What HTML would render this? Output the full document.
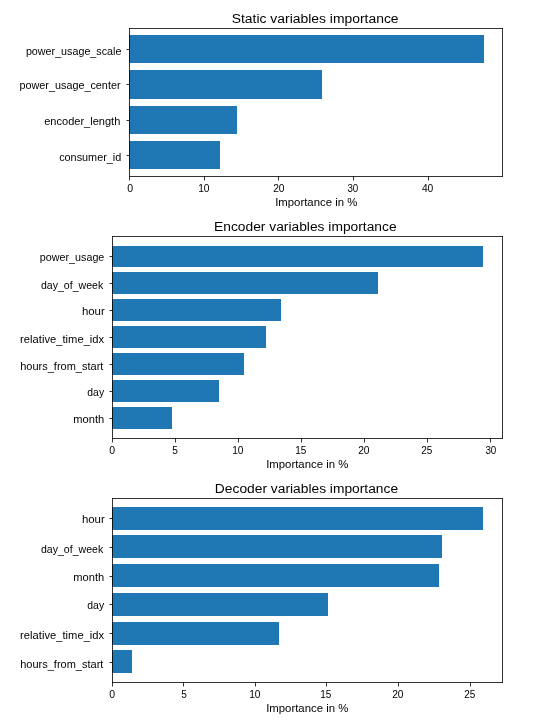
<!DOCTYPE html><html><head><meta charset="utf-8"><title>Variables importance</title><style>html,body{margin:0;padding:0;background:#fff;}svg{display:block;will-change:transform;}text{font-family:"Liberation Sans",sans-serif;fill:#000;}</style></head><body>
<svg width="547" height="725" viewBox="0 0 547 725">
<rect x="0" y="0" width="547" height="725" fill="#fff"/>
<g shape-rendering="crispEdges" fill="#1f77b4">
<rect x="129" y="35" width="355" height="28"/>
<rect x="129" y="70" width="193" height="29"/>
<rect x="129" y="106" width="108" height="28"/>
<rect x="129" y="141" width="91" height="28"/>
<rect x="112" y="246" width="371" height="21"/>
<rect x="112" y="272" width="266" height="22"/>
<rect x="112" y="299" width="169" height="22"/>
<rect x="112" y="326" width="154" height="22"/>
<rect x="112" y="353" width="132" height="22"/>
<rect x="112" y="380" width="107" height="22"/>
<rect x="112" y="407" width="60" height="22"/>
<rect x="112" y="507" width="371" height="23"/>
<rect x="112" y="535" width="330" height="23"/>
<rect x="112" y="564" width="327" height="23"/>
<rect x="112" y="593" width="216" height="23"/>
<rect x="112" y="622" width="167" height="23"/>
<rect x="112" y="650" width="20" height="23"/>
</g><g shape-rendering="crispEdges" fill="#000">
<rect x="129" y="28" width="374" height="1" fill-opacity="0.8"/>
<rect x="129" y="176" width="374" height="1" fill-opacity="0.8"/>
<rect x="129" y="29" width="1" height="147" fill-opacity="0.8"/>
<rect x="502" y="29" width="1" height="147" fill-opacity="0.8"/>
<rect x="129" y="28" width="1" height="1" fill-opacity="0.6275"/>
<rect x="502" y="28" width="1" height="1" fill-opacity="0.6275"/>
<rect x="129" y="176" width="1" height="1" fill-opacity="0.6275"/>
<rect x="502" y="176" width="1" height="1" fill-opacity="0.6275"/>
<rect x="129" y="176" width="1" height="1" fill-opacity="0.4"/>
<rect x="129" y="177" width="1" height="3" fill-opacity="0.8"/>
<rect x="129" y="180" width="1" height="1" fill-opacity="0.4"/>
<rect x="204" y="176" width="1" height="1" fill-opacity="0.4"/>
<rect x="204" y="177" width="1" height="3" fill-opacity="0.8"/>
<rect x="204" y="180" width="1" height="1" fill-opacity="0.4"/>
<rect x="278" y="176" width="1" height="1" fill-opacity="0.4"/>
<rect x="278" y="177" width="1" height="3" fill-opacity="0.8"/>
<rect x="278" y="180" width="1" height="1" fill-opacity="0.4"/>
<rect x="353" y="176" width="1" height="1" fill-opacity="0.4"/>
<rect x="353" y="177" width="1" height="3" fill-opacity="0.8"/>
<rect x="353" y="180" width="1" height="1" fill-opacity="0.4"/>
<rect x="428" y="176" width="1" height="1" fill-opacity="0.4"/>
<rect x="428" y="177" width="1" height="3" fill-opacity="0.8"/>
<rect x="428" y="180" width="1" height="1" fill-opacity="0.4"/>
<rect x="129" y="49" width="1" height="1" fill-opacity="0.4"/>
<rect x="127" y="49" width="2" height="1" fill-opacity="0.8"/>
<rect x="126" y="49" width="1" height="1" fill-opacity="0.4"/>
<rect x="129" y="84" width="1" height="1" fill-opacity="0.4"/>
<rect x="127" y="84" width="2" height="1" fill-opacity="0.8"/>
<rect x="126" y="84" width="1" height="1" fill-opacity="0.4"/>
<rect x="129" y="120" width="1" height="1" fill-opacity="0.4"/>
<rect x="127" y="120" width="2" height="1" fill-opacity="0.8"/>
<rect x="126" y="120" width="1" height="1" fill-opacity="0.4"/>
<rect x="129" y="155" width="1" height="1" fill-opacity="0.4"/>
<rect x="127" y="155" width="2" height="1" fill-opacity="0.8"/>
<rect x="126" y="155" width="1" height="1" fill-opacity="0.4"/>
<rect x="112" y="236" width="391" height="1" fill-opacity="0.8"/>
<rect x="112" y="438" width="391" height="1" fill-opacity="0.8"/>
<rect x="112" y="237" width="1" height="201" fill-opacity="0.8"/>
<rect x="502" y="237" width="1" height="201" fill-opacity="0.8"/>
<rect x="112" y="236" width="1" height="1" fill-opacity="0.6275"/>
<rect x="502" y="236" width="1" height="1" fill-opacity="0.6275"/>
<rect x="112" y="438" width="1" height="1" fill-opacity="0.6275"/>
<rect x="502" y="438" width="1" height="1" fill-opacity="0.6275"/>
<rect x="112" y="438" width="1" height="1" fill-opacity="0.4"/>
<rect x="112" y="439" width="1" height="3" fill-opacity="0.8"/>
<rect x="112" y="442" width="1" height="1" fill-opacity="0.4"/>
<rect x="175" y="438" width="1" height="1" fill-opacity="0.4"/>
<rect x="175" y="439" width="1" height="3" fill-opacity="0.8"/>
<rect x="175" y="442" width="1" height="1" fill-opacity="0.4"/>
<rect x="238" y="438" width="1" height="1" fill-opacity="0.4"/>
<rect x="238" y="439" width="1" height="3" fill-opacity="0.8"/>
<rect x="238" y="442" width="1" height="1" fill-opacity="0.4"/>
<rect x="301" y="438" width="1" height="1" fill-opacity="0.4"/>
<rect x="301" y="439" width="1" height="3" fill-opacity="0.8"/>
<rect x="301" y="442" width="1" height="1" fill-opacity="0.4"/>
<rect x="364" y="438" width="1" height="1" fill-opacity="0.4"/>
<rect x="364" y="439" width="1" height="3" fill-opacity="0.8"/>
<rect x="364" y="442" width="1" height="1" fill-opacity="0.4"/>
<rect x="427" y="438" width="1" height="1" fill-opacity="0.4"/>
<rect x="427" y="439" width="1" height="3" fill-opacity="0.8"/>
<rect x="427" y="442" width="1" height="1" fill-opacity="0.4"/>
<rect x="490" y="438" width="1" height="1" fill-opacity="0.4"/>
<rect x="490" y="439" width="1" height="3" fill-opacity="0.8"/>
<rect x="490" y="442" width="1" height="1" fill-opacity="0.4"/>
<rect x="112" y="256" width="1" height="1" fill-opacity="0.4"/>
<rect x="110" y="256" width="2" height="1" fill-opacity="0.8"/>
<rect x="109" y="256" width="1" height="1" fill-opacity="0.4"/>
<rect x="112" y="283" width="1" height="1" fill-opacity="0.4"/>
<rect x="110" y="283" width="2" height="1" fill-opacity="0.8"/>
<rect x="109" y="283" width="1" height="1" fill-opacity="0.4"/>
<rect x="112" y="310" width="1" height="1" fill-opacity="0.4"/>
<rect x="110" y="310" width="2" height="1" fill-opacity="0.8"/>
<rect x="109" y="310" width="1" height="1" fill-opacity="0.4"/>
<rect x="112" y="337" width="1" height="1" fill-opacity="0.4"/>
<rect x="110" y="337" width="2" height="1" fill-opacity="0.8"/>
<rect x="109" y="337" width="1" height="1" fill-opacity="0.4"/>
<rect x="112" y="364" width="1" height="1" fill-opacity="0.4"/>
<rect x="110" y="364" width="2" height="1" fill-opacity="0.8"/>
<rect x="109" y="364" width="1" height="1" fill-opacity="0.4"/>
<rect x="112" y="391" width="1" height="1" fill-opacity="0.4"/>
<rect x="110" y="391" width="2" height="1" fill-opacity="0.8"/>
<rect x="109" y="391" width="1" height="1" fill-opacity="0.4"/>
<rect x="112" y="418" width="1" height="1" fill-opacity="0.4"/>
<rect x="110" y="418" width="2" height="1" fill-opacity="0.8"/>
<rect x="109" y="418" width="1" height="1" fill-opacity="0.4"/>
<rect x="112" y="498" width="391" height="1" fill-opacity="0.8"/>
<rect x="112" y="682" width="391" height="1" fill-opacity="0.8"/>
<rect x="112" y="499" width="1" height="183" fill-opacity="0.8"/>
<rect x="502" y="499" width="1" height="183" fill-opacity="0.8"/>
<rect x="112" y="498" width="1" height="1" fill-opacity="0.6275"/>
<rect x="502" y="498" width="1" height="1" fill-opacity="0.6275"/>
<rect x="112" y="682" width="1" height="1" fill-opacity="0.6275"/>
<rect x="502" y="682" width="1" height="1" fill-opacity="0.6275"/>
<rect x="112" y="682" width="1" height="1" fill-opacity="0.4"/>
<rect x="112" y="683" width="1" height="3" fill-opacity="0.8"/>
<rect x="112" y="686" width="1" height="1" fill-opacity="0.4"/>
<rect x="183" y="682" width="1" height="1" fill-opacity="0.4"/>
<rect x="183" y="683" width="1" height="3" fill-opacity="0.8"/>
<rect x="183" y="686" width="1" height="1" fill-opacity="0.4"/>
<rect x="255" y="682" width="1" height="1" fill-opacity="0.4"/>
<rect x="255" y="683" width="1" height="3" fill-opacity="0.8"/>
<rect x="255" y="686" width="1" height="1" fill-opacity="0.4"/>
<rect x="326" y="682" width="1" height="1" fill-opacity="0.4"/>
<rect x="326" y="683" width="1" height="3" fill-opacity="0.8"/>
<rect x="326" y="686" width="1" height="1" fill-opacity="0.4"/>
<rect x="398" y="682" width="1" height="1" fill-opacity="0.4"/>
<rect x="398" y="683" width="1" height="3" fill-opacity="0.8"/>
<rect x="398" y="686" width="1" height="1" fill-opacity="0.4"/>
<rect x="470" y="682" width="1" height="1" fill-opacity="0.4"/>
<rect x="470" y="683" width="1" height="3" fill-opacity="0.8"/>
<rect x="470" y="686" width="1" height="1" fill-opacity="0.4"/>
<rect x="112" y="518" width="1" height="1" fill-opacity="0.4"/>
<rect x="110" y="518" width="2" height="1" fill-opacity="0.8"/>
<rect x="109" y="518" width="1" height="1" fill-opacity="0.4"/>
<rect x="112" y="547" width="1" height="1" fill-opacity="0.4"/>
<rect x="110" y="547" width="2" height="1" fill-opacity="0.8"/>
<rect x="109" y="547" width="1" height="1" fill-opacity="0.4"/>
<rect x="112" y="576" width="1" height="1" fill-opacity="0.4"/>
<rect x="110" y="576" width="2" height="1" fill-opacity="0.8"/>
<rect x="109" y="576" width="1" height="1" fill-opacity="0.4"/>
<rect x="112" y="604" width="1" height="1" fill-opacity="0.4"/>
<rect x="110" y="604" width="2" height="1" fill-opacity="0.8"/>
<rect x="109" y="604" width="1" height="1" fill-opacity="0.4"/>
<rect x="112" y="633" width="1" height="1" fill-opacity="0.4"/>
<rect x="110" y="633" width="2" height="1" fill-opacity="0.8"/>
<rect x="109" y="633" width="1" height="1" fill-opacity="0.4"/>
<rect x="112" y="662" width="1" height="1" fill-opacity="0.4"/>
<rect x="110" y="662" width="2" height="1" fill-opacity="0.8"/>
<rect x="109" y="662" width="1" height="1" fill-opacity="0.4"/>
</g>
<text x="231.73" y="23.06" font-size="12.50" textLength="166.86" lengthAdjust="spacingAndGlyphs">Static variables importance</text>
<text x="59.15" y="161.15" font-size="10.50" textLength="62.19" lengthAdjust="spacingAndGlyphs">consumer<tspan dy="1">_</tspan><tspan dy="-1">id</tspan></text>
<text x="44.23" y="125.06" font-size="10.50" textLength="76.08" lengthAdjust="spacingAndGlyphs">encoder<tspan dy="1">_</tspan><tspan dy="-1">length</tspan></text>
<text x="19.52" y="88.94" font-size="10.50" textLength="101.00" lengthAdjust="spacingAndGlyphs">power<tspan dy="1">_</tspan><tspan dy="-1">usage</tspan><tspan dy="1">_</tspan><tspan dy="-1">center</tspan></text>
<text x="25.90" y="55.41" font-size="10.50" textLength="95.53" lengthAdjust="spacingAndGlyphs">power<tspan dy="1">_</tspan><tspan dy="-1">usage</tspan><tspan dy="1">_</tspan><tspan dy="-1">scale</tspan></text>
<text x="127.38" y="191.99" font-size="10.50" textLength="5.88" lengthAdjust="spacingAndGlyphs">0</text>
<text x="198.15" y="191.90" font-size="10.50" textLength="11.37" lengthAdjust="spacingAndGlyphs">10</text>
<text x="273.14" y="191.91" font-size="10.50" textLength="11.40" lengthAdjust="spacingAndGlyphs">20</text>
<text x="347.43" y="191.92" font-size="10.50" textLength="10.89" lengthAdjust="spacingAndGlyphs">30</text>
<text x="421.89" y="191.92" font-size="10.50" textLength="11.45" lengthAdjust="spacingAndGlyphs">40</text>
<text x="275.17" y="205.99" font-size="10.50" textLength="82.15" lengthAdjust="spacingAndGlyphs">Importance in %</text>
<text x="214.08" y="231.15" font-size="12.50" textLength="182.50" lengthAdjust="spacingAndGlyphs">Encoder variables importance</text>
<text x="73.28" y="422.94" font-size="10.50" textLength="30.88" lengthAdjust="spacingAndGlyphs">month</text>
<text x="87.32" y="395.83" font-size="10.50" textLength="16.81" lengthAdjust="spacingAndGlyphs">day</text>
<text x="20.20" y="369.99" font-size="10.50" textLength="83.22" lengthAdjust="spacingAndGlyphs">hours<tspan dy="1">_</tspan><tspan dy="-1">from</tspan><tspan dy="1">_</tspan><tspan dy="-1">start</tspan></text>
<text x="20.12" y="342.88" font-size="10.50" textLength="84.10" lengthAdjust="spacingAndGlyphs">relative<tspan dy="1">_</tspan><tspan dy="-1">time</tspan><tspan dy="1">_</tspan><tspan dy="-1">idx</tspan></text>
<text x="81.90" y="315.05" font-size="10.50" textLength="22.86" lengthAdjust="spacingAndGlyphs">hour</text>
<text x="40.93" y="288.90" font-size="10.50" textLength="62.28" lengthAdjust="spacingAndGlyphs">day<tspan dy="1">_</tspan><tspan dy="-1">of</tspan><tspan dy="1">_</tspan><tspan dy="-1">week</tspan></text>
<text x="39.88" y="261.12" font-size="10.50" textLength="64.48" lengthAdjust="spacingAndGlyphs">power<tspan dy="1">_</tspan><tspan dy="-1">usage</tspan></text>
<text x="109.17" y="453.99" font-size="10.50" textLength="5.84" lengthAdjust="spacingAndGlyphs">0</text>
<text x="172.13" y="453.93" font-size="10.50" textLength="5.63" lengthAdjust="spacingAndGlyphs">5</text>
<text x="232.15" y="453.90" font-size="10.50" textLength="11.37" lengthAdjust="spacingAndGlyphs">10</text>
<text x="295.25" y="453.88" font-size="10.50" textLength="11.13" lengthAdjust="spacingAndGlyphs">15</text>
<text x="358.14" y="453.91" font-size="10.50" textLength="11.40" lengthAdjust="spacingAndGlyphs">20</text>
<text x="421.32" y="453.92" font-size="10.50" textLength="11.12" lengthAdjust="spacingAndGlyphs">25</text>
<text x="485.38" y="453.92" font-size="10.50" textLength="11.00" lengthAdjust="spacingAndGlyphs">30</text>
<text x="266.17" y="467.99" font-size="10.50" textLength="82.15" lengthAdjust="spacingAndGlyphs">Importance in %</text>
<text x="214.88" y="493.11" font-size="12.50" textLength="183.23" lengthAdjust="spacingAndGlyphs">Decoder variables importance</text>
<text x="20.20" y="667.99" font-size="10.50" textLength="83.22" lengthAdjust="spacingAndGlyphs">hours<tspan dy="1">_</tspan><tspan dy="-1">from</tspan><tspan dy="1">_</tspan><tspan dy="-1">start</tspan></text>
<text x="20.12" y="638.88" font-size="10.50" textLength="84.10" lengthAdjust="spacingAndGlyphs">relative<tspan dy="1">_</tspan><tspan dy="-1">time</tspan><tspan dy="1">_</tspan><tspan dy="-1">idx</tspan></text>
<text x="87.32" y="608.83" font-size="10.50" textLength="16.81" lengthAdjust="spacingAndGlyphs">day</text>
<text x="73.28" y="580.94" font-size="10.50" textLength="30.88" lengthAdjust="spacingAndGlyphs">month</text>
<text x="40.93" y="552.90" font-size="10.50" textLength="62.28" lengthAdjust="spacingAndGlyphs">day<tspan dy="1">_</tspan><tspan dy="-1">of</tspan><tspan dy="1">_</tspan><tspan dy="-1">week</tspan></text>
<text x="81.90" y="523.05" font-size="10.50" textLength="22.86" lengthAdjust="spacingAndGlyphs">hour</text>
<text x="109.17" y="697.99" font-size="10.50" textLength="5.84" lengthAdjust="spacingAndGlyphs">0</text>
<text x="181.13" y="697.93" font-size="10.50" textLength="5.63" lengthAdjust="spacingAndGlyphs">5</text>
<text x="249.15" y="697.90" font-size="10.50" textLength="11.41" lengthAdjust="spacingAndGlyphs">10</text>
<text x="320.25" y="697.88" font-size="10.50" textLength="11.13" lengthAdjust="spacingAndGlyphs">15</text>
<text x="392.14" y="697.91" font-size="10.50" textLength="11.40" lengthAdjust="spacingAndGlyphs">20</text>
<text x="464.27" y="697.92" font-size="10.50" textLength="11.11" lengthAdjust="spacingAndGlyphs">25</text>
<text x="266.17" y="711.99" font-size="10.50" textLength="82.15" lengthAdjust="spacingAndGlyphs">Importance in %</text>
</svg></body></html>
